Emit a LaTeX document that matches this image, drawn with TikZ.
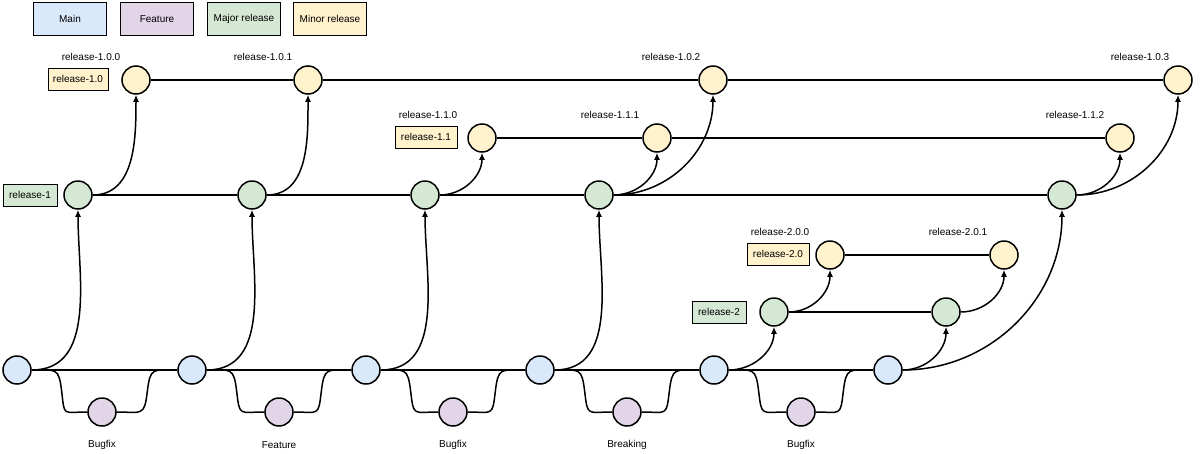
\documentclass[tikz,border=0pt]{standalone}
\usepackage{fontspec}
\setmainfont{Liberation Sans}
\usetikzlibrary{arrows.meta}
\definecolor{cB}{HTML}{DAE8FC}
\definecolor{cP}{HTML}{E1D5E7}
\definecolor{cG}{HTML}{D5E8D4}
\definecolor{cY}{HTML}{FFF2CC}
\begin{document}
\begin{tikzpicture}[x=1pt,y=-1pt,
  c/.style={circle,draw,line width=1.5pt,minimum size=28pt,inner sep=0pt},
  mn/.style={c,fill=cB},
  ft/.style={c,fill=cP},
  mj/.style={c,fill=cG},
  mi/.style={c,fill=cY},
  tag/.style={draw,inner sep=0pt,minimum height=22pt,text width=#1,align=center,font=\fontsize{10}{12}\selectfont},
  lbl/.style={font=\fontsize{10}{12}\selectfont},
  leg/.style={draw,line width=1.5pt,minimum width=73pt,minimum height=33pt,font=\fontsize{10}{12}\selectfont},
  ln/.style={line width=1.5pt},
  ar/.style={line width=1.5pt,-{Latex[length=7pt,width=6pt]}}]
\useasboundingbox (0,0) rectangle (1200,453);
% legend
\node[leg,fill=cB] (lm) at (70,19) {Main};
\node[leg,fill=cP] (lf) at (157,19) {Feature};
\node[leg,fill=cG] (lj) at (244,19) {Major release};
\node[leg,fill=cY] (ln) at (330,19) {Minor release};
% main
\foreach \n/\x in {m1/17,m2/192,m3/366,m4/540,m5/714,m6/888} \node[mn] (\n) at (\x,370) {};
\foreach \n/\x/\t in {f1/102/Bugfix,f2/279/Feature,f3/453/Bugfix,f4/627/Breaking,f5/801/Bugfix}{
  \node[ft] (\n) at (\x,412) {};
  \node[lbl] (\n l) at (\x,445) {\t};}
% green
\foreach \n/\x in {g1/78,g2/252,g3/425,g4/599,g5/1062} \node[mj] (\n) at (\x,195) {};
\node[mj] (h1) at (774,312) {};
\node[mj] (h2) at (946,312) {};
% yellow
\node[mi] (a0) at (136,80) {}; \node[mi] (a1) at (308,80) {};
\node[mi] (a2) at (713,80) {}; \node[mi] (a3) at (1178,80) {};
\node[mi] (b0) at (482,138) {}; \node[mi] (b1) at (657,138) {}; \node[mi] (b2) at (1120,138) {};
\node[mi] (d0) at (830,255) {}; \node[mi] (d1) at (1004,255) {};
% labels
\node[lbl] (la0) at (91,57) {release-1.0.0};
\node[lbl] (la1) at (263,57) {release-1.0.1};
\node[lbl] (la2) at (671,57) {release-1.0.2};
\node[lbl] (la3) at (1140,57) {release-1.0.3};
\node[lbl] (lb0) at (428,115) {release-1.1.0};
\node[lbl] (lb1) at (610,115) {release-1.1.1};
\node[lbl] (lb2) at (1075,115) {release-1.1.2};
\node[lbl] (ld0) at (780,232) {release-2.0.0};
\node[lbl] (ld1) at (958,232) {release-2.0.1};
\node[tag=60pt,fill=cY] (t1) at (78,79) {release-1.0};
\node[tag=54pt,fill=cG] (t2) at (30,195) {release-1};
\node[tag=62pt,fill=cY] (t3) at (426,137) {release-1.1};
\node[tag=62pt,fill=cY] (t4) at (778,254) {release-2.0};
\node[tag=54pt,fill=cG] (t5) at (719,312) {release-2};
% chains
\draw[ln] (m1)--(m2) (m2)--(m3) (m3)--(m4) (m4)--(m5) (m5)--(m6);
\draw[ln] (g1)--(g2) (g2)--(g3) (g3)--(g4) (g4)--(g5);
\draw[ln] (a0)--(a1) (a1)--(a2) (a2)--(a3);
\draw[ln] (b0)--(b1) (b1)--(b2);
\draw[ln] (d0)--(d1) (h1)--(h2);
% features
\foreach \a/\f/\b in {m1/f1/m2,m2/f2/m3,m3/f3/m4,m4/f4/m5,m5/f5/m6}{
  \draw[ln] (\a.east) .. controls +(25,0) and +(-3,-25) .. +(30,22) .. controls +(3,25) and +(-25,0) .. (\f.west);
  \draw[ln] (\f.east) .. controls +(25,0) and +(-3,25) .. ([xshift=-30pt,yshift=-22pt]\b.west) .. controls +(3,-25) and +(-25,0) .. (\b.west);}
% arrows
\foreach \s/\t in {m1/g1,m2/g2,m3/g3,m4/g4,m6/g5,m5/h1,m6/h2,g1/a0,g2/a1,g3/b0,g4/b1,g4/a2,g5/b2,g5/a3,h1/d0,h2/d1}
  \draw[ar] (\s.east) to[out=0,in=-90] (\t.south);
\end{tikzpicture}
\end{document}
